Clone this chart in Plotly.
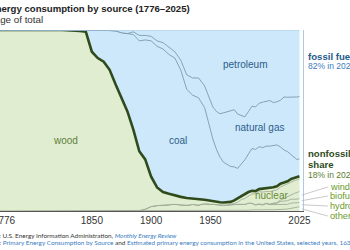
import plotly.graph_objects as go

years = [1770, 1776, 1800, 1825, 1840, 1845, 1850, 1855, 1860, 1865, 1870, 1875, 1880, 1885, 1890,
         1895, 1900, 1905, 1910, 1915, 1920, 1925, 1930, 1935, 1940, 1945, 1949, 1952, 1955,
         1958, 1961, 1964, 1967, 1970, 1973, 1976, 1979, 1982, 1985, 1988, 1991, 1994, 1997,
         2000, 2003, 2006, 2009, 2012, 2015, 2018, 2021, 2023, 2025]

other = [0]*33 + [0.05, 0.1, 0.1, 0.2, 0.4, 0.6, 0.7, 0.7, 0.7, 0.7, 0.7, 0.7, 0.7, 0.8, 0.9, 1.1, 1.4, 1.8, 2.0, 2.3]
hydro = [0]*14 + [0.3, 1.0, 2.5, 3.0, 3.3, 3.5, 3.7, 3.4, 3.2, 3.6, 3.3, 4.0, 3.8, 3.5, 3.2,
                  3.2, 3.2, 3.3, 3.5, 3.7, 3.6, 3.6, 3.5, 4.0, 3.6, 2.6, 3.0, 2.6, 3.3,
                  2.8, 2.8, 2.9, 2.9, 2.8, 2.5, 2.9, 2.6, 2.3, 2.3]
biofuels = [0]*37 + [0.05, 0.1, 0.15, 0.2, 0.2, 0.25, 0.25, 0.4, 0.7, 1.5, 1.8, 2.0, 2.1, 2.0, 2.1, 2.2]
wind = [0]*38 + [0.01, 0.02, 0.03, 0.03, 0.04, 0.06, 0.1, 0.3, 0.7, 1.3, 1.9, 2.5, 3.3, 3.6, 4.0]
nuclear = [0]*30 + [0.01, 0.05, 0.15, 0.4, 1.2, 2.6, 3.3, 4.0, 5.2, 6.0, 6.8, 6.8, 6.4,
                    6.8, 6.8, 6.9, 7.2, 7.0, 7.1, 7.0, 6.9, 6.9, 6.8]
wood = [100, 100, 100, 100, 99.5, 99, 88, 84.5, 82.5, 78, 70, 62, 55, 45, 32.7,
        27.5, 16.5, 10.0, 7.2, 6.0, 4.8, 4.4, 4.0, 3.4, 3.2, 2.2, 2.0, 1.7, 1.6,
        1.4, 1.4, 1.35, 1.35, 1.7, 2.15, 2.2, 2.6, 2.3, 1.7, 1.5, 1.4, 1.9, 1.8,
        1.9, 2.1, 2.0, 1.8, 1.5, 1.5, 1.5, 1.5, 1.5, 1.4]
coal = [0, 0, 0, 0, 0.5, 1, 12, 15.5, 17.3, 21.7, 29.5, 36.5, 43, 52.5, 61,
        66, 75, 78, 79, 77, 76, 70, 60, 57, 56, 51, 41.6, 33, 28,
        24, 22, 21, 19.5, 18.5, 16.5, 17.5, 19, 21.5, 23.5, 23, 23.5, 22.5, 23,
        23, 22.5, 22.5, 20, 17.5, 16, 13, 11, 9.5, 9.5]
gas = [0, 0, 0, 0, 0, 0, 0, 0, 0, 0, 0, 0, 0, 1.5, 3.0,
       2.5, 2.5, 3.0, 3.5, 4.0, 3.5, 5.5, 8.0, 9.5, 11, 12, 15, 17, 20,
       23, 27, 29, 30.5, 31.5, 30, 27, 24, 24, 23.5, 23.5, 24, 25, 24.5,
       25, 23.5, 23.5, 25.5, 28.5, 29.5, 31.5, 33, 34, 34]
petroleum = [0, 0, 0, 0, 0, 0, 0, 0, 0.2, 0.3, 0.5, 1.5, 2.0, 1.0, 3.0,
             3.0, 3.5, 6.0, 7.0, 9.5, 12, 16.7, 24.8, 26.5, 26.5, 30.8, 37.6, 40.8, 43.2,
             44.4, 45.2, 45.0, 44.5, 44.0, 46.5, 47.1, 48.5, 46.2, 42.3, 42.4, 40.6, 39.6, 39.0,
             38.6, 39.4, 39.1, 38.3, 36.0, 36.4, 36.2, 36.5, 36.4, 36.3]

tick_vals = [1776, 1850, 1900, 1950, 2025]

GREEN_FILL = "#e0edd0"
BLUE_FILL = "#cce8fa"
THIN_GREEN = "#98a590"
THIN_BLUE = "#6f8ea8"

fig = go.Figure()

series = [
    ("other", other, THIN_GREEN, 0.8, GREEN_FILL),
    ("hydro", hydro, THIN_GREEN, 0.8, GREEN_FILL),
    ("biofuels", biofuels, THIN_GREEN, 0.8, GREEN_FILL),
    ("wind", wind, THIN_GREEN, 0.8, GREEN_FILL),
    ("nuclear", nuclear, THIN_GREEN, 0.8, GREEN_FILL),
    ("wood", wood, "#2f4b1c", 2.6, GREEN_FILL),
    ("coal", coal, THIN_BLUE, 0.8, BLUE_FILL),
    ("natural gas", gas, THIN_BLUE, 0.8, BLUE_FILL),
    ("petroleum", petroleum, "#a9cbe3", 1.0, BLUE_FILL),
]
for name, vals, lc, lw, fc in series:
    fig.add_trace(go.Scatter(x=years, y=vals, name=name, mode="lines",
                             stackgroup="s", groupnorm="percent",
                             line=dict(color=lc, width=lw, shape="linear"),
                             fillcolor=fc, hoverinfo="skip"))

fig.update_layout(
    width=350, height=250,
    margin=dict(l=0, r=47, t=30, b=39, autoexpand=False),
    paper_bgcolor="white", plot_bgcolor="white",
    showlegend=False,
    font=dict(family="Liberation Sans, Arial, sans-serif", size=10, color="#333"),
    xaxis=dict(range=[1772.6, 2028], tickvals=tick_vals, ticktext=[str(v) for v in tick_vals],
               showgrid=False, zeroline=False, showline=True, linecolor="#555", linewidth=1,
               ticks="", tickfont=dict(size=10, color="#333"), ticklabeloverflow="allow",
               automargin=False),
    yaxis=dict(range=[0, 100], showgrid=False, zeroline=False, showticklabels=False,
               showline=True, side="right", linecolor="#a9cbe3", linewidth=1, ticks="",
               automargin=False),
)

def ann(text, x, y, xref="x", yref="y", color="#333", size=10, xanchor="center", bold=False, **kw):
    if bold:
        text = "<b>" + text + "</b>"
    fig.add_annotation(text=text, x=x, y=y, xref=xref, yref=yref, showarrow=False,
                       font=dict(color=color, size=size), xanchor=xanchor, yanchor="middle", **kw)

ann("wood", 1828, 38.7, color="#5f7f3c", size=10)
ann("coal", 1922.6, 39.2, color="#2d5d8a", size=10)
ann("petroleum", 1979, 80.7, color="#2d5d8a", size=10)
ann("natural gas", 1991.7, 46.4, color="#2d5d8a", size=10)
ann("nuclear", 2001.8, 8.8, color="#6b8a3a", size=10)

def px_x(px):
    return px / 303.0
def px_y(py):
    return (211 - py) / 181.0

ann("fossil fuels", px_x(306), px_y(57), xref="paper", yref="paper", color="#1f5a8c", size=9.6, xanchor="left", bold=True)
ann("82% in 2025", px_x(306), px_y(66), xref="paper", yref="paper", color="#3a7dbf", size=8.5, xanchor="left")
ann("nonfossil", px_x(306), px_y(153), xref="paper", yref="paper", color="#2f4b1c", size=9.6, xanchor="left", bold=True)
ann("share", px_x(306), px_y(164), xref="paper", yref="paper", color="#2f4b1c", size=9.6, xanchor="left", bold=True)
ann("18% in 2025", px_x(306), px_y(175), xref="paper", yref="paper", color="#5a7d2e", size=8.5, xanchor="left")

stack_order = [("other", other), ("hydro", hydro), ("biofuels", biofuels), ("wind", wind)]
label_py = {"wind": 187, "biofuels": 196, "hydro": 206, "other": 216}
cum = 0.0
for name, vals in stack_order:
    mid = cum + vals[-1] / 2.0
    cum += vals[-1]
    target_py = 211 - mid * 1.81
    fig.add_annotation(x=2027, y=mid, xref="x", yref="y", text=name, showarrow=True,
                       arrowhead=0, arrowwidth=0.8, arrowcolor="#bbbbbb",
                       ax=26, ay=label_py[name] - target_py, xanchor="left",
                       font=dict(color="#6a9a2a", size=9.2))

ann("U.S. energy consumption by source (1776\u20132025)", -33 / 303.0, (211 - 8) / 181.0,
    xref="paper", yref="paper", color="#222", size=9.6, xanchor="left", bold=True)
ann("percentage of total", -40 / 303.0, (211 - 20) / 181.0,
    xref="paper", yref="paper", color="#333", size=9.8, xanchor="left")

src1 = ("Source: U.S. Energy Information Administration, "
        "<i><span style='color:#3a7dbf'>Monthly Energy Review</span></i>")
src2 = ("Data: <span style='color:#3a7dbf'>Primary Energy Consumption by Source</span> and "
        "<span style='color:#3a7dbf'>Estimated primary energy consumption in the United States, "
        "selected years, 1635\u20131945</span>")
fig.add_annotation(text=src1, x=-22 / 303.0, y=(211 - 235) / 181.0, xref="paper", yref="paper",
                   showarrow=False, xanchor="left", yanchor="middle",
                   font=dict(family="Lato, sans-serif", size=6.4, color="#333"))
fig.add_annotation(text=src2, x=-16 / 303.0, y=(211 - 242) / 181.0, xref="paper", yref="paper",
                   showarrow=False, xanchor="left", yanchor="middle",
                   font=dict(family="Lato, sans-serif", size=6.4, color="#333"))

fig.write_html("out.html")
